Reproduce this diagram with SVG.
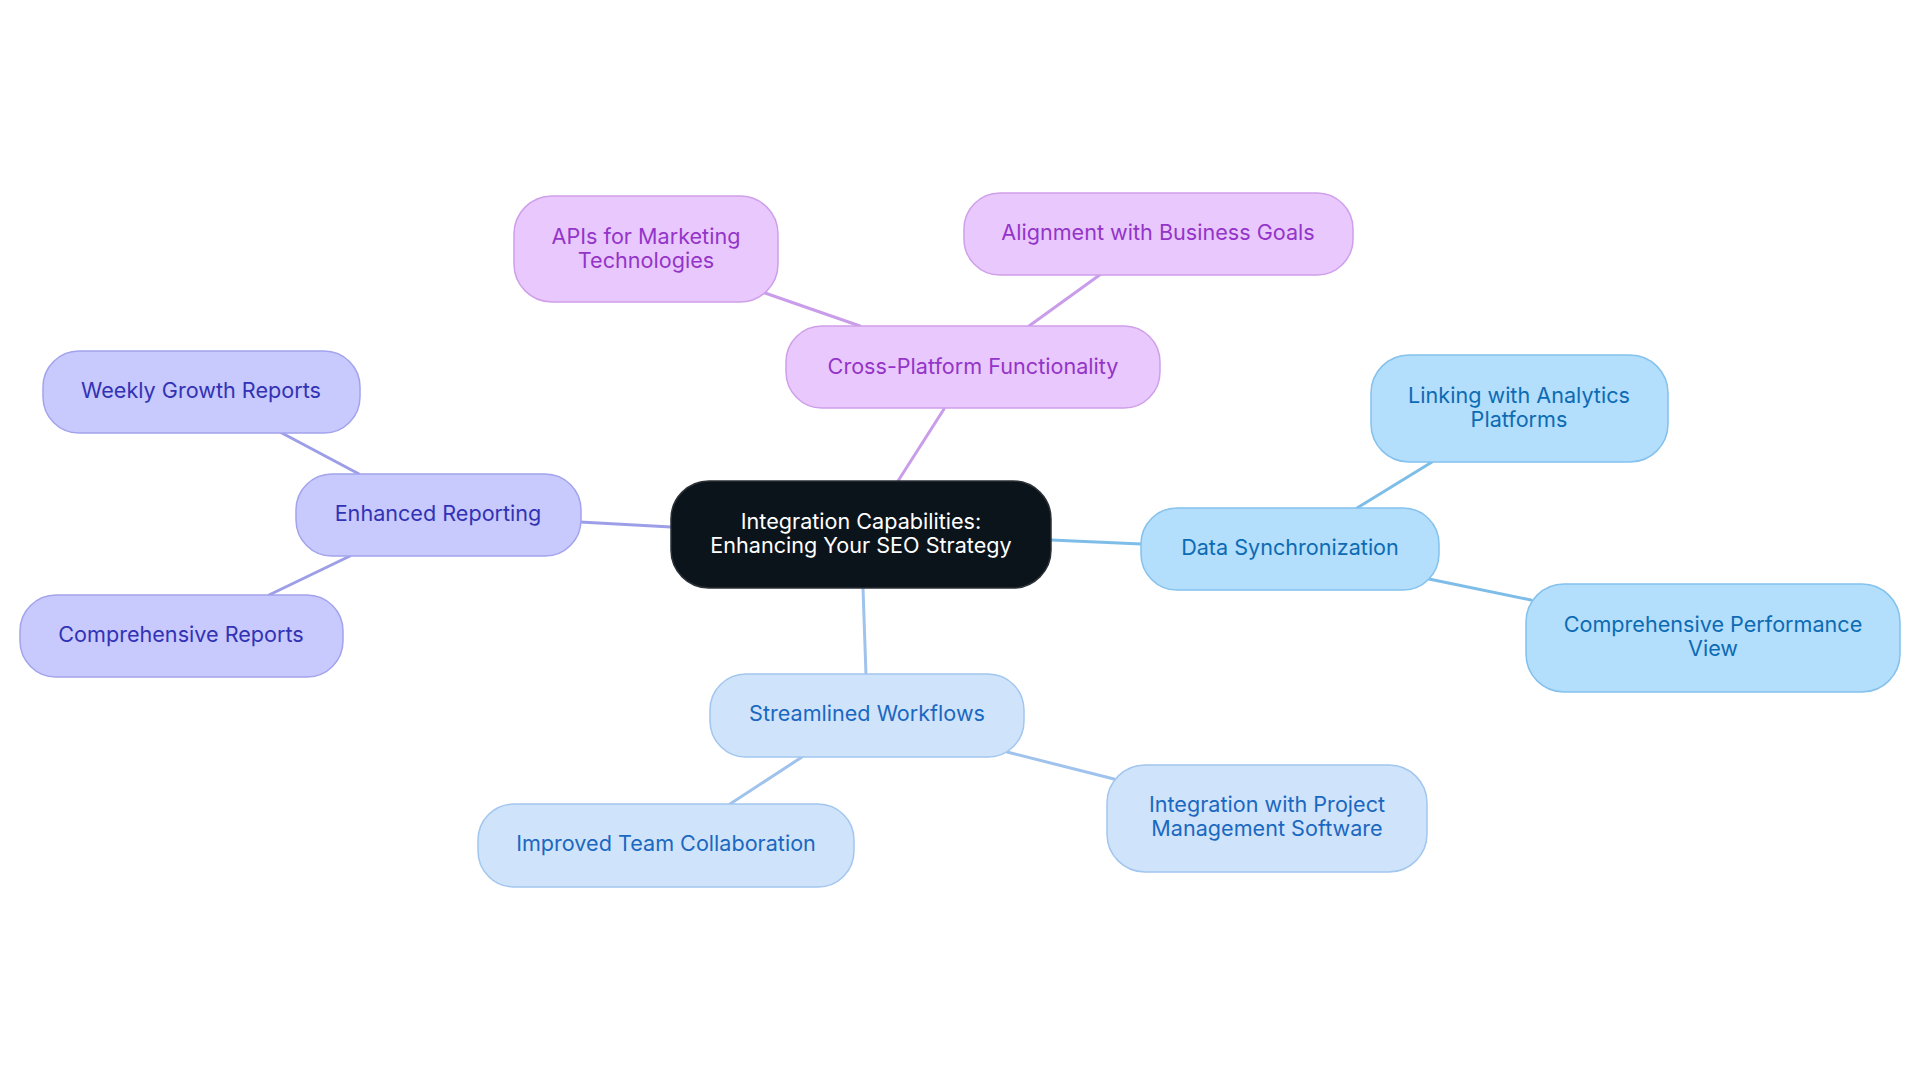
<svg xmlns="http://www.w3.org/2000/svg" width="1920" height="1083" viewBox="0 0 1920 1083">
<style>
text{font-family:Inter,"Noto Sans",sans-serif;font-size:21.6px;text-anchor:middle;dominant-baseline:central}
.c line{stroke-width:3;stroke-linecap:round}
.root rect{fill:#0c141b;stroke:#2a3036;stroke-width:1.5}
.root text{fill:#ffffff}
.pu rect{fill:#e9c9fd;stroke:#cf9fea;stroke-width:1.5}
.pu text{fill:#9434c9}
.in rect{fill:#c8c9fc;stroke:#a2a3ec;stroke-width:1.5}
.in text{fill:#3232b5}
.bl rect{fill:#b3defc;stroke:#84c1ec;stroke-width:1.5}
.bl text{fill:#0d6bb3}
.lb rect{fill:#cfe3fb;stroke:#a2c6ee;stroke-width:1.5}
.lb text{fill:#1b68c0}
</style>
<rect width="1920" height="1083" fill="#ffffff"/>
<g id="connectors" class="c">
<line x1="898" y1="481" x2="944" y2="409" stroke="#c99de9"/>
<line x1="860" y1="326" x2="765" y2="293" stroke="#c99de9"/>
<line x1="1029" y1="326" x2="1101" y2="274" stroke="#c99de9"/>
<line x1="671" y1="527" x2="580" y2="522" stroke="#9d9ee8"/>
<line x1="359" y1="474" x2="280" y2="432" stroke="#9d9ee8"/>
<line x1="350" y1="556" x2="269" y2="595" stroke="#9d9ee8"/>
<line x1="1051" y1="540" x2="1141" y2="544" stroke="#7fbde9"/>
<line x1="1357" y1="508" x2="1432" y2="462" stroke="#7fbde9"/>
<line x1="1429" y1="579" x2="1531" y2="600" stroke="#7fbde9"/>
<line x1="863" y1="588" x2="866" y2="675" stroke="#9fc3ec"/>
<line x1="802" y1="757" x2="730" y2="804" stroke="#9fc3ec"/>
<line x1="1007" y1="752" x2="1114" y2="779" stroke="#9fc3ec"/>
</g>
<g id="root" class="root">
<rect x="671" y="481" width="380" height="107" rx="38"/>
<text x="861" y="521">Integration Capabilities:</text>
<text x="861" y="545">Enhancing Your SEO Strategy</text>
</g>
<g id="cross-platform" class="pu">
<rect x="786" y="326" width="374" height="82" rx="36"/>
<text x="973" y="366">Cross-Platform Functionality</text>
</g>
<g id="apis" class="pu">
<rect x="514" y="196" width="264" height="106" rx="38"/>
<text x="646" y="236">APIs for Marketing</text>
<text x="646" y="260">Technologies</text>
</g>
<g id="alignment" class="pu">
<rect x="964" y="193" width="389" height="82" rx="36"/>
<text x="1158" y="232">Alignment with Business Goals</text>
</g>
<g id="enhanced" class="in">
<rect x="296" y="474" width="285" height="82" rx="36"/>
<text x="438" y="513">Enhanced Reporting</text>
</g>
<g id="weekly" class="in">
<rect x="43" y="351" width="317" height="82" rx="36"/>
<text x="201" y="390">Weekly Growth Reports</text>
</g>
<g id="comprehensive-reports" class="in">
<rect x="20" y="595" width="323" height="82" rx="36"/>
<text x="181" y="634">Comprehensive Reports</text>
</g>
<g id="data-sync" class="bl">
<rect x="1141" y="508" width="298" height="82" rx="36"/>
<text x="1290" y="547">Data Synchronization</text>
</g>
<g id="linking" class="bl">
<rect x="1371" y="355" width="297" height="107" rx="38"/>
<text x="1519" y="395">Linking with Analytics</text>
<text x="1519" y="419">Platforms</text>
</g>
<g id="performance-view" class="bl">
<rect x="1526" y="584" width="374" height="108" rx="38"/>
<text x="1713" y="624">Comprehensive Performance</text>
<text x="1713" y="648">View</text>
</g>
<g id="streamlined" class="lb">
<rect x="710" y="674" width="314" height="83" rx="36"/>
<text x="867" y="713">Streamlined Workflows</text>
</g>
<g id="improved" class="lb">
<rect x="478" y="804" width="376" height="83" rx="36"/>
<text x="666" y="843">Improved Team Collaboration</text>
</g>
<g id="integration-pm" class="lb">
<rect x="1107" y="765" width="320" height="107" rx="38"/>
<text x="1267" y="804">Integration with Project</text>
<text x="1267" y="828">Management Software</text>
</g>
</svg>
